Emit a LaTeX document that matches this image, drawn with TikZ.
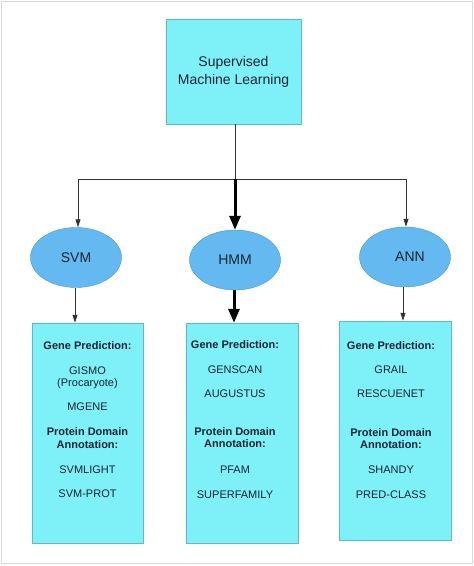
\documentclass[tikz,border=0pt]{standalone}
\usepackage{fontspec}
\setmainfont{Liberation Sans}
\usetikzlibrary{shapes.geometric,arrows.meta}

\definecolor{boxcyan}{RGB}{125,240,248}
\definecolor{boxline}{RGB}{95,185,200}
\definecolor{ovalblue}{RGB}{100,186,240}
\definecolor{ovalline}{RGB}{70,150,215}
\definecolor{inkblue}{RGB}{22,36,52}

\tikzset{
    sqbox/.style={draw=boxline, fill=boxcyan, inner sep=0pt},
    oval/.style={ellipse, draw=ovalline, fill=ovalblue, inner sep=0pt,
        minimum width=91, minimum height=60, font=\fontsize{14}{16}\selectfont, text=inkblue},
    listtext/.style={align=center, anchor=north, inner sep=0pt, text=inkblue,
        font=\fontsize{11}{12.5}\selectfont},
    thinarrow/.style={draw=black!80, line width=0.8pt, -{Triangle[width=5pt,length=8pt]}},
    thickarrow/.style={draw=black, line width=3pt, -{Triangle[width=11pt,length=14pt]}},
}

\begin{document}
\begin{tikzpicture}[x=1pt,y=-1pt]
        \useasboundingbox (0,0) rectangle (474,566);
        \draw[black!15, line width=1pt] (1.5,1.5) rectangle (472.5,563.5);

        % Oberer Kasten
        \node[sqbox, minimum width=135, minimum height=105, align=center,
            text=inkblue, font=\fontsize{14}{18}\selectfont] (sml) at (233.5,71.5)
            {Supervised\\Machine Learning};

        % Ellipsen
        \node[oval] (svm) at (76,257.5) {SVM};
        \node[oval] (hmm) at (235,260) {HMM};
        \node[oval] (ann) at (405,257) {\hspace*{10pt}ANN};

        % Listen
        \node[sqbox, minimum width=111, minimum height=220] (svmbox) at (87.5,433) {};
        \node[sqbox, minimum width=112, minimum height=220] (hmmbox) at (242,433) {};
        \node[sqbox, minimum width=112, minimum height=219] (annbox) at (395,430.5) {};

        \node[listtext] (svmlist) at (87.5,341) {\textbf{Gene Prediction:}\\[12.5pt]
            GISMO\\(Procaryote)\\[11.5pt]
            MGENE\\[12.5pt]
            \textbf{Protein Domain}\\\textbf{Annotation:}\\[13pt]
            SVMLIGHT\\[11.5pt]
            SVM-PROT};
        \node[listtext] (hmmlist) at (235,340) {\textbf{Gene Prediction:}\\[12.5pt]
            GENSCAN\\[11.5pt]
            AUGUSTUS\\[25.5pt]
            \textbf{Protein Domain}\\\textbf{Annotation:}\\[13pt]
            PFAM\\[12.5pt]
            SUPERFAMILY};
        \node[listtext] (annlist) at (391,341) {\textbf{Gene Prediction:}\\[11.5pt]
            GRAIL\\[11.5pt]
            RESCUENET\\[26.5pt]
            \textbf{Protein Domain}\\\textbf{Annotation:}\\[12.5pt]
            SHANDY\\[12.5pt]
            PRED-CLASS};

        % Verbindungen
        \coordinate (split) at (235,179);
        \draw[draw=black!80, line width=0.8pt] (sml.south -| split) -- (split);
        \draw[thinarrow] (split) -| ([xshift=2pt]svm.north);
        \draw[thinarrow] (split) -| ([xshift=1pt]ann.north);
        \draw[thickarrow] (split) -- (hmm.north);

        \draw[thinarrow] ([xshift=-1pt]svm.south) -- ([xshift=-1pt]svm.south |- svmbox.north);
        \draw[thickarrow] ([xshift=-1pt]hmm.south) -- ([xshift=-1pt]hmm.south |- hmmbox.north);
        \draw[thinarrow] ([xshift=-2pt]ann.south) -- ([xshift=-2pt]ann.south |- annbox.north);
\end{tikzpicture}
\end{document}
